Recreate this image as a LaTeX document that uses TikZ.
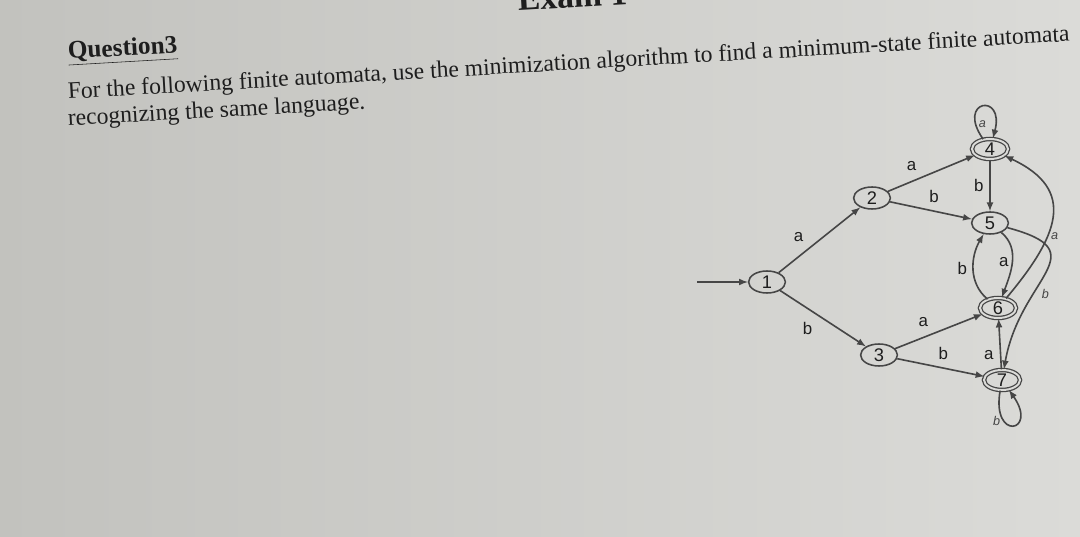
\documentclass[tikz,border=0pt]{standalone}
\usepackage{fontspec}
\setmainfont{Liberation Serif}
\newfontfamily\lblfont{Liberation Sans}
\usetikzlibrary{arrows,shapes.geometric,positioning}
\definecolor{bgL}{RGB}{194,194,190}
\definecolor{bgR}{RGB}{219,219,216}
\definecolor{ink}{RGB}{30,30,30}
\definecolor{wire}{RGB}{70,70,70}

\begin{document}
\begin{tikzpicture}[auto,x=0.025cm,y=0.025cm,>=latex,
		state/.style={ellipse,draw=wire,line width=1.1pt,minimum width=0.92cm,minimum height=0.55cm,inner sep=0pt,font=\lblfont\fontsize{13}{13}\selectfont,text=ink},
		accept/.style={state,line width=0.9pt,double=bgR,double distance=1.4pt,minimum width=0.9cm,minimum height=0.5cm},
		trans/.style={->,draw=wire,line width=1.15pt},
		lbl/.style={font=\lblfont\fontsize{12}{12}\selectfont,text=ink,inner sep=4pt},
		smalllbl/.style={font=\lblfont\itshape\fontsize{9}{9}\selectfont,text=wire,inner sep=2pt},
		txt/.style={text=ink,inner sep=0pt,rotate=3.3,anchor=base west}]
		\shade[left color=bgL,right color=bgR] (0,0) rectangle (1080,-537);
		\useasboundingbox (0,0) rectangle (1080,-537);
		% page text
		\node[txt,font=\bfseries\fontsize{24}{24}\selectfont] (exam) at (518,-11) {Exam 1};
		\node[txt,font=\bfseries\fontsize{18}{18}\selectfont] (quest) at (68,-59) {\underline{Question3}};
		\node[txt,font=\fontsize{16.8}{16.8}\selectfont] (task) at (68,-99)
		{For the following finite automata, use the minimization algorithm to find a minimum-state finite automata};
		\node[txt,font=\fontsize{16.8}{16.8}\selectfont] (task2) at (68,-126) {recognizing the same language.};
		% automaton
		\node[state]  (n1) at (767,-282) {1};
		\node[state]  (n2) at (872,-198) {2};
		\node[state]  (n3) at (879,-355) {3};
		\node[accept] (n4) at (990,-149) {4};
		\node[state]  (n5) at (990,-223) {5};
		\node[accept] (n6) at (998,-308) {6};
		\node[accept] (n7) at (1002,-380) {7};
		\coordinate (start) at (697,-282);
		\draw[trans] (start) -- (n1);
		\draw[trans] (n1) -- node[lbl,pos=0.38] {a} (n2);
		\draw[trans] (n1) -- node[lbl,swap,pos=0.45] {b} (n3);
		\draw[trans] (n2) -- node[lbl,pos=0.4] {a} (n4);
		\draw[trans] (n2) -- node[lbl,pos=0.4] {b} (n5);
		\draw[trans] (n3) -- node[lbl,pos=0.45] {a} (n6);
		\draw[trans] (n3) -- node[lbl,pos=0.4] {b} (n7);
		\draw[trans] (n4) -- node[lbl,swap] {b} (n5);
		\draw[trans] (n7) -- node[lbl] {a} (n6);
		\draw[trans] (n5) to[out=-40,in=70] node[lbl,left,inner sep=2pt] {a} (n6);
		\draw[trans] (n6) to[out=140,in=-120] node[lbl,left] {b} (n5);
		\draw[trans] (n6) to[out=50,in=-25,looseness=1.45] node[smalllbl,pos=0.37,right] {a} (n4);
		\draw[trans] (n5) to[out=-15,in=80,looseness=1.7] node[smalllbl,pos=0.65,right=3pt] {b} (n7);
		\draw[trans] (n4) to[out=125,in=75,looseness=8,min distance=1.2cm] node[smalllbl,pos=0.5,below=0.25cm] {a} (n4);
		\draw[trans] (n7) to[out=-100,in=-55,looseness=8,min distance=1.3cm] node[smalllbl,pos=0.3,left] {b} (n7);
\end{tikzpicture}
\end{document}
